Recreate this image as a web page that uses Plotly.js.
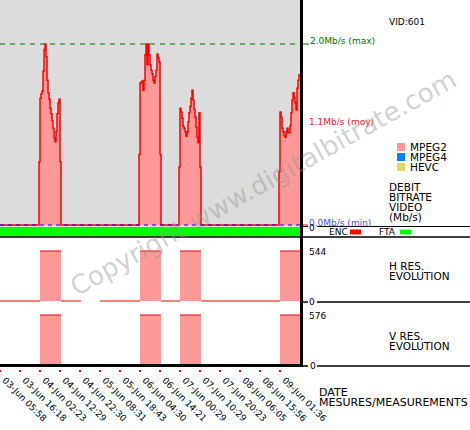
<!DOCTYPE html>
<html>
<head>
<meta charset="utf-8">
<script src="https://cdn.plot.ly/plotly-3.0.1.min.js"></script>
<style>html,body{margin:0;padding:0;background:#fff;}#chart{width:470px;height:430px;}</style>
</head>
<body>
<div id="chart"></div>
<script>
// ---- data ----
var tickVals = [0,20,40,60,80,100,120,140,160,180,200,220,240,260,280];
var tickLabels = ['03-Jun 05:58','03-Jun 16:18','04-Jun 02:23','04-Jun 12:29','04-Jun 22:30','05-Jun 08:31','05-Jun 18:43','06-Jun 04:30','06-Jun 14:21','07-Jun 00:29','07-Jun 10:29','07-Jun 20:23','08-Jun 06:05','08-Jun 15:56','09-Jun 01:36'];
var nSamples = 300;
// bitrate bursts (Mb/s), each starting at a sample index; zero elsewhere
var burstStarts = [39, 139, 179, 279];
var burst1 = [0.70,1.40,1.45,1.48,1.70,1.94,2.00,1.86,1.60,1.46,1.39,1.29,1.23,1.15,1.07,0.96,0.92,1.03,1.23,1.35,1.39,0.70];
var burst2 = [0.78,1.57,1.58,1.59,1.49,1.60,1.88,2.00,1.77,2.00,1.88,1.77,1.71,1.67,1.60,1.57,1.64,1.71,1.89,1.85,1.80,0.78];
var burst3 = [0.64,1.29,1.25,1.18,1.09,1.07,1.03,0.98,1.03,1.14,1.24,1.31,1.40,1.49,1.38,1.28,1.19,1.08,0.97,0.91,1.24,0.64];
var burst4 = [0.59,1.25,1.19,1.07,1.03,0.99,0.97,1.03,1.07,1.02,1.02,1.10,1.24,1.38,1.46,1.41,1.35,1.27,1.51,1.60,1.66];
var rateMax = 2.0, rateMoy = 1.1, rateMin = 0.0;
// resolution segments (sample index ranges); null = no measurement
var resStart = [0, 40, 61, 81, 100, 140, 161, 180, 201, 280];
var resEnd   = [40, 61, 81, 100, 140, 161, 180, 201, 280, 300];
var hRes     = [0, 544, 0, null, 0, 544, 0, 544, 0, 544];
var vRes     = [0, 576, 0, null, 0, 576, 0, 576, 0, 576];
// FTA state over the whole period
var ftaX = [0, 300];
var ftaY = [1, 1];
var legendNames = ['MPEG2','MPEG4','HEVC'];
var legendColors = ['#ff9999','#0080ff','#dcdc64'];

// ---- helpers ----
var W = 470, H = 430;
function px(x){ return x / W; }
function py(y){ return 1 - y / H; }

// build bitrate step series
var bursts = [burst1, burst2, burst3, burst4];
var rx = [0], ry = [0];
bursts.forEach(function(b, k){
  var s = burstStarts[k];
  if (rx[rx.length-1] !== s) { rx.push(s); ry.push(b[0]); } else { ry[ry.length-1] = b[0]; }
  for (var i = 1; i < b.length; i++) { rx.push(s + i); ry.push(b[i]); }
  if (s + b.length < nSamples) { rx.push(s + b.length); ry.push(0); }
});
if (rx[rx.length-1] < nSamples) { rx.push(nSamples); ry.push(ry[ry.length-1]); }

function segLines(vals){
  var x = [], y = [];
  for (var i = 0; i < resStart.length; i++) {
    if (vals[i] === null) continue;
    x.push(resStart[i], resEnd[i], null); y.push(vals[i], vals[i], null);
  }
  return {x:x, y:y};
}
function segBars(vals){
  var x = [], y = [], w = [];
  for (var i = 0; i < resStart.length; i++) {
    if (vals[i] === null || vals[i] === 0) continue;
    x.push((resStart[i] + resEnd[i]) / 2); y.push(vals[i]); w.push(resEnd[i] - resStart[i]);
  }
  return {x:x, y:y, w:w};
}
var hL = segLines(hRes), vL = segLines(vRes), hB = segBars(hRes), vB = segBars(vRes);

var traces = [
  {type:'scatter', mode:'lines', x:rx, y:ry, xaxis:'x', yaxis:'y', line:{shape:'hv', color:'#ff0000', width:1.5}, fill:'tozeroy', fillcolor:'#ff9999', hoverinfo:'skip'},
  {type:'scatter', mode:'lines', x:ftaX, y:ftaY, xaxis:'x', yaxis:'y4', line:{width:0, color:'#00ff00'}, fill:'tozeroy', fillcolor:'#00ff00', hoverinfo:'skip'},
  {type:'bar', x:hB.x, y:hB.y, width:hB.w, xaxis:'x', yaxis:'y2', marker:{color:'#ff9999', line:{width:0}}, hoverinfo:'skip'},
  {type:'scatter', mode:'lines', x:hL.x, y:hL.y, xaxis:'x', yaxis:'y2', line:{color:'#ff0000', width:1}, connectgaps:false, hoverinfo:'skip'},
  {type:'bar', x:vB.x, y:vB.y, width:vB.w, xaxis:'x', yaxis:'y3', marker:{color:'#ff9999', line:{width:0}}, hoverinfo:'skip'},
  {type:'scatter', mode:'lines', x:vL.x, y:vL.y, xaxis:'x', yaxis:'y3', line:{color:'#ff0000', width:1}, connectgaps:false, hoverinfo:'skip'}
];

var yHidden = {showticklabels:false, showgrid:false, zeroline:false, showline:false, ticks:'', fixedrange:true};
function yax(dom, rng){ var o = Object.assign({}, yHidden); o.domain = dom; o.range = rng; o.anchor = 'x'; return o; }

function ann(x, y, text, size, color, extra){
  var a = {xref:'paper', yref:'paper', x:px(x), y:py(y), xanchor:'left', yanchor:'middle', text:text, showarrow:false, borderpad:0,
    font:{family:'DejaVu Sans', size:size, color:color || '#000'}};
  if (extra) Object.assign(a, extra);
  return a;
}
var annotations = [
  ann(388, 22, 'VID:601', 9),
  {xref:'paper', yref:'y', x:px(309), y:rateMax, xanchor:'left', yanchor:'bottom', yshift:-3, text:rateMax.toFixed(1)+'Mb/s (max)', showarrow:false, borderpad:0, font:{family:'DejaVu Sans', size:9, color:'#007000'}},
  {xref:'paper', yref:'y', x:px(308), y:rateMoy, xanchor:'left', yanchor:'bottom', yshift:-3, text:rateMoy.toFixed(1)+'Mb/s (moy)', showarrow:false, borderpad:0, font:{family:'DejaVu Sans', size:9, color:'#ff2020'}},
  {xref:'paper', yref:'y', x:px(308), y:rateMin, xanchor:'left', yanchor:'bottom', yshift:-3.5, text:rateMin.toFixed(1)+'Mb/s (min)', showarrow:false, borderpad:0, font:{family:'DejaVu Sans', size:9, color:'#5050ff'}},
  ann(308, 228, '0', 9),
  ann(328, 232, 'ENC', 9),
  ann(378, 232, 'FTA', 9),
  ann(308, 252, String(hRes[1]), 9),
  ann(308, 302, '0', 9),
  ann(308, 316, String(vRes[1]), 9),
  ann(309, 366, '0', 9),
  ann(388, 187, 'DEBIT', 10.5), ann(388, 197, 'BITRATE', 10.5), ann(388, 207, 'VIDEO', 10.5), ann(388, 217, '(Mb/s)', 10.5),
  ann(388, 266, 'H RES.', 10.5), ann(388, 276, 'EVOLUTION', 10.5),
  ann(388, 336, 'V RES.', 10.5), ann(388, 346, 'EVOLUTION', 10.5),
  ann(318, 392, 'DATE', 11), ann(318, 402, 'MESURES/MEASUREMENTS', 11),
  {xref:'paper', yref:'paper', x:px(263), y:py(183), xanchor:'center', yanchor:'middle', text:'Copyright www.digitalbitrate.com', textangle:-29, showarrow:false,
   font:{family:'DejaVu Sans', size:26, color:'rgba(150,150,150,0.45)'}}
];
for (var i = 0; i < legendNames.length; i++) {
  annotations.push(ann(409, 147 + 10*i, legendNames[i], 10.5));
}

function hline(x0, x1, y, w, c){ return {type:'line', xref:'paper', yref:'paper', x0:px(x0), x1:px(x1), y0:py(y), y1:py(y), line:{color:c || '#000', width:w}}; }
function rect(x0, y0, x1, y1, c){ return {type:'rect', xref:'paper', yref:'paper', x0:px(x0), x1:px(x1), y0:py(y1), y1:py(y0), fillcolor:c, line:{width:0}}; }
var shapes = [
  {type:'rect', xref:'x domain', yref:'y domain', x0:0, x1:1, y0:0, y1:1, fillcolor:'#dcdcdc', line:{width:0}, layer:'below'},
  {type:'line', xref:'x', yref:'y', x0:0, x1:nSamples, y0:rateMax, y1:rateMax, line:{color:'#007000', width:1, dash:'5px,5px'}},
  {type:'line', xref:'x', yref:'y', x0:0, x1:nSamples, y0:rateMin, y1:rateMin, line:{color:'#0000ff', width:1, dash:'4px,4px'}},
  {type:'line', xref:'paper', yref:'y', x0:px(303), x1:px(309), y0:rateMax, y1:rateMax, line:{color:'#007000', width:1}},
  {type:'line', xref:'paper', yref:'y', x0:px(303), x1:px(308), y0:rateMin, y1:rateMin, line:{color:'#ff0000', width:1}},
  {type:'line', xref:'paper', yref:'paper', x0:px(301.5), x1:px(301.5), y0:py(0), y1:py(366), line:{color:'#000', width:3}},
  hline(0, 470, 237, 1.5),
  hline(317, 470, 226.5, 1), hline(303, 308, 226.5, 1),
  hline(317, 470, 302, 1.5), hline(303, 308, 302, 1.5),
  hline(317, 470, 366, 1.5), hline(303, 308, 366, 1.5),
  hline(0, 303, 365.5, 3),
  rect(350, 229.5, 361, 234.5, '#ff0000'),
  rect(400, 229.5, 411, 234.5, '#00ff00')
];
for (var j = 0; j < legendColors.length; j++) {
  shapes.push(rect(397, 143 + 10*j, 405, 151 + 10*j, legendColors[j]));
}

var layout = {
  width: W, height: H,
  margin: {l:0, r:0, t:0, b:0, pad:0},
  paper_bgcolor: '#ffffff', plot_bgcolor: 'rgba(0,0,0,0)',
  showlegend: false, barmode: 'overlay', bargap: 0,
  font: {family:'DejaVu Sans', size:9, color:'#000'},
  xaxis: {domain:[0, px(300)], range:[-0.01, nSamples], anchor:'free', position:py(368.5),
    tickmode:'array', tickvals:tickVals, ticktext:tickLabels, tickangle:45, ticklabeloverflow:'allow',
    ticklabelshift:5, ticklabelstandoff:0,
    ticks:'outside', ticklen:2, tickwidth:2, tickcolor:'#ff0000', automargin:false,
    showgrid:false, zeroline:false, showline:false, fixedrange:true,
    tickfont:{family:'DejaVu Sans', size:9, color:'#000'}},
  yaxis:  yax([py(227), 1], [-(227-225)/90.5, 225/90.5]),
  yaxis4: yax([py(236.5), py(227)], [0, 1]),
  yaxis2: yax([py(302), py(238)], [-(302-301)*544/50, (301-238)*544/50]),
  yaxis3: yax([py(366), py(303)], [-(366-365)*576/50, (365-303)*576/50]),
  shapes: shapes,
  annotations: annotations
};
Plotly.newPlot('chart', traces, layout, {staticPlot:true, displayModeBar:false});
</script>
</body>
</html>
